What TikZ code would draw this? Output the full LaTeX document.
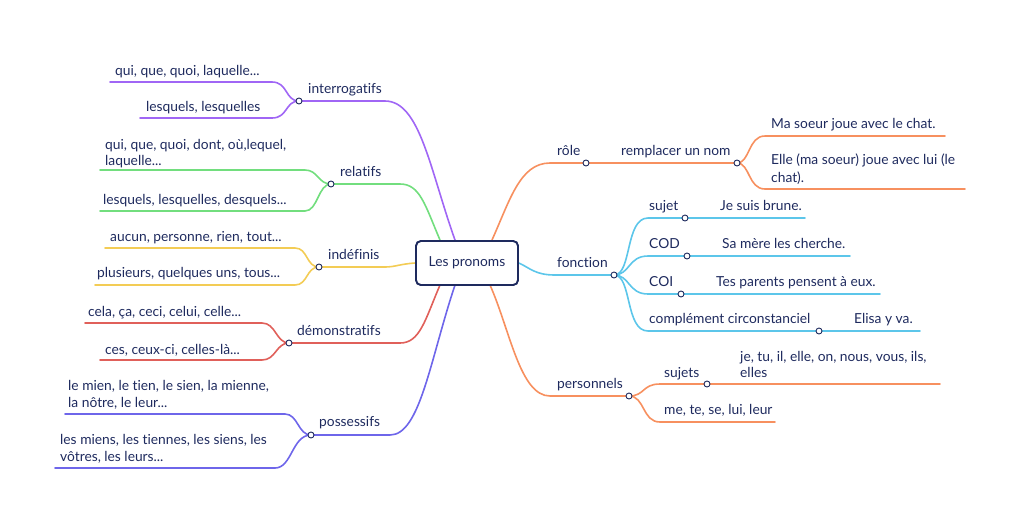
\documentclass[tikz,border=0pt]{standalone}
\usepackage{fontspec}
\setmainfont{Lato}[Ligatures=NoCommon]
\begin{document}
\begin{tikzpicture}[x=1pt,y=-1pt,
  t/.style={text=navy,font=\fontsize{13.8}{16}\selectfont,inner sep=0pt},
  br/.style={line width=1.6pt,line cap=round},
  dot/.style={circle,draw=navy,fill=white,line width=0.9pt,minimum size=6pt,inner sep=0pt}]
\definecolor{navy}{HTML}{1E2A5E}
\definecolor{cpur}{HTML}{A066F5}
\definecolor{cgrn}{HTML}{72DE7E}
\definecolor{cyel}{HTML}{F3CC55}
\definecolor{cred}{HTML}{E0605A}
\definecolor{cblu}{HTML}{6E66EA}
\definecolor{cora}{HTML}{F7905F}
\definecolor{ccya}{HTML}{5CC6EA}
\useasboundingbox (0,0) rectangle (1024,531);
% central
\node[draw=navy,line width=1.8pt,rounded corners=5pt,fill=white,minimum width=102pt,minimum height=44pt,t] (c) at (467,263) {};
% ---- left branches
% interrogatifs
\coordinate (i0) at (455,240);
\draw[br,cpur] (i0) .. controls (430,170) and (420,101) .. (385,101) -- (299,101);
\draw[br,cpur] (110,82) -- (272,82) .. controls (288,82) and (285,101) .. (299,101);
\draw[br,cpur] (140,118) -- (272,118) .. controls (288,118) and (285,101) .. (299,101);
\node[dot] (di) at (299,101) {};
\node[t,anchor=base west] at (308,93) {interrogatifs};
\node[t,anchor=base west] at (115,75) {qui, que, quoi, laquelle...};
\node[t,anchor=base west] at (146,111) {lesquels, lesquelles};
% relatifs
\coordinate (r0) at (440,240);
\draw[br,cgrn] (r0) .. controls (425,205) and (420,184) .. (400,184) -- (331,184);
\draw[br,cgrn] (100,170) -- (305,170) .. controls (318,170) and (318,184) .. (331,184);
\draw[br,cgrn] (100,211) -- (305,211) .. controls (318,211) and (318,184) .. (331,184);
\node[dot] (dr) at (331,184) {};
\node[t,anchor=base west] at (340,176) {relatifs};
\node[t,anchor=base west] at (105,149) {qui, que, quoi, dont, où,lequel,};
\node[t,anchor=base west] at (105,165) {laquelle...};
\node[t,anchor=base west] at (103,204) {lesquels, lesquelles, desquels...};
% indefinis
\draw[br,cyel] (c.west) .. controls (400,264) and (395,267) .. (385,267) -- (319,267);
\draw[br,cyel] (105,248) -- (295,248) .. controls (308,248) and (306,267) .. (319,267);
\draw[br,cyel] (95,285) -- (295,285) .. controls (308,285) and (306,267) .. (319,267);
\node[dot] (dn) at (319,267) {};
\node[t,anchor=base west] at (328,259) {indéfinis};
\node[t,anchor=base west] at (110,241) {aucun, personne, rien, tout...};
\node[t,anchor=base west] at (97,277) {plusieurs, quelques uns, tous...};
% demonstratifs
\coordinate (d0) at (440,285);
\draw[br,cred] (d0) .. controls (425,320) and (420,343) .. (400,343) -- (289,343);
\draw[br,cred] (85,323) -- (262,323) .. controls (276,323) and (276,343) .. (289,343);
\draw[br,cred] (100,360) -- (262,360) .. controls (276,360) and (276,343) .. (289,343);
\node[dot] (dd) at (289,343) {};
\node[t,anchor=base west] at (297,335) {démonstratifs};
\node[t,anchor=base west] at (88,316) {cela, ça, ceci, celui, celle...};
\node[t,anchor=base west] at (105,354) {ces, ceux-ci, celles-là...};
% possessifs
\coordinate (p0) at (455,285);
\draw[br,cblu] (p0) .. controls (430,360) and (420,435) .. (390,435) -- (311,435);
\draw[br,cblu] (65,414) -- (285,414) .. controls (298,414) and (298,435) .. (311,435);
\draw[br,cblu] (55,468) -- (275,468) .. controls (292,468) and (292,435) .. (311,435);
\node[dot] (dp) at (311,435) {};
\node[t,anchor=base west] at (319,426) {possessifs};
\node[t,anchor=base west] at (68,390) {le mien, le tien, le sien, la mienne,};
\node[t,anchor=base west] at (68,407) {la nôtre, le leur...};
\node[t,anchor=base west] at (60,444) {les miens, les tiennes, les siens, les};
\node[t,anchor=base west] at (60,461) {vôtres, les leurs...};
% ---- right: role
\coordinate (o0) at (492,240);
\draw[br,cora] (o0) .. controls (510,200) and (520,163) .. (550,163) -- (737,163);
\draw[br,cora] (737,163) .. controls (750,163) and (748,136) .. (765,136) -- (945,136);
\draw[br,cora] (737,163) .. controls (750,163) and (748,189) .. (765,189) -- (965,189);
\node[dot] (drole) at (586,163) {};
\node[dot] (drem) at (737,163) {};
\node[t,anchor=base west] at (557,155) {rôle};
\node[t,anchor=base west] at (621,155) {remplacer un nom};
\node[t,anchor=base west] at (771,128) {Ma soeur joue avec le chat.};
\node[t,anchor=base west] at (771,164) {Elle (ma soeur) joue avec lui (le};
\node[t,anchor=base west] at (771,182) {chat).};
% fonction
\draw[br,ccya] (c.east) .. controls (530,268) and (535,275) .. (555,275) -- (614,275);
\draw[br,ccya] (614,275) .. controls (632,275) and (625,218) .. (648,218) -- (805,218);
\draw[br,ccya] (614,275) .. controls (630,275) and (628,256) .. (648,256) -- (850,256);
\draw[br,ccya] (614,275) .. controls (630,275) and (628,294) .. (648,294) -- (880,294);
\draw[br,ccya] (614,275) .. controls (632,275) and (625,331) .. (648,331) -- (920,331);
\node[dot] (df) at (614,275) {};
\node[dot] at (685,218) {};
\node[dot] at (687,256) {};
\node[dot] at (681,294) {};
\node[dot] at (819,331) {};
\node[t,anchor=base west] at (557,267) {fonction};
\node[t,anchor=base west] at (649,210) {sujet};
\node[t,anchor=base west] at (720,210) {Je suis brune.};
\node[t,anchor=base west] at (649,248) {COD};
\node[t,anchor=base west] at (722,248) {Sa mère les cherche.};
\node[t,anchor=base west] at (649,286) {COI};
\node[t,anchor=base west] at (716,286) {Tes parents pensent à eux.};
\node[t,anchor=base west] at (649,323) {complément circonstanciel};
\node[t,anchor=base west] at (854,323) {Elisa y va.};
% personnels
\coordinate (q0) at (490,285);
\draw[br,cora] (q0) .. controls (510,330) and (520,396) .. (550,396) -- (629,396);
\draw[br,cora] (629,396) .. controls (645,396) and (642,384) .. (660,384) -- (940,384);
\draw[br,cora] (629,396) .. controls (645,396) and (642,422) .. (660,422) -- (775,422);
\node[dot] (dq) at (629,396) {};
\node[dot] at (707,384) {};
\node[t,anchor=base west] at (557,388) {personnels};
\node[t,anchor=base west] at (664,377) {sujets};
\node[t,anchor=base west] at (740,361) {je, tu, il, elle, on, nous, vous, ils,};
\node[t,anchor=base west] at (740,377) {elles};
\node[t,anchor=base west] at (664,414) {me, te, se, lui, leur};
% central on top
\node[draw=navy,line width=1.8pt,rounded corners=5pt,fill=white,minimum width=102pt,minimum height=44pt,t] at (467,263) {Les pronoms};
\end{tikzpicture}
\end{document}
